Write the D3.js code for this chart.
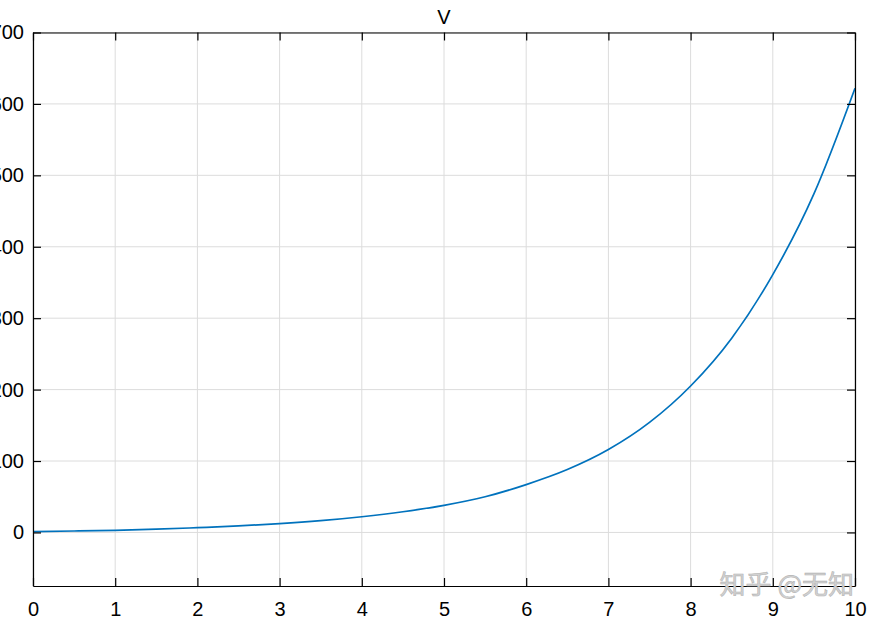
<!DOCTYPE html>
<html>
<head>
<meta charset="utf-8">
<script src="https://cdn.jsdelivr.net/npm/d3@7"></script>
<style>
  html, body { margin: 0; padding: 0; background: #fff; }
  svg { display: block; }
</style>
</head>
<body>
<svg id="chart" width="875" height="619"></svg>
<script>
// ---- data ----
const tValues = [0, 0.5, 1, 1.5, 2, 2.5, 3, 3.5, 4, 4.5, 5, 5.5, 6, 6.5, 7, 7.5, 8, 8.5, 9, 9.5, 10];
const vValues = [1.2, 2, 3, 4.5, 6.7, 9.1, 12.3, 16.5, 22, 29, 38, 50, 67, 88, 116, 154, 205, 272, 361, 474, 622];
const xTicks = [0, 1, 2, 3, 4, 5, 6, 7, 8, 9, 10];
const yTicks = [0, 100, 200, 300, 400, 500, 600, 700];
const titleText = "V";
const watermarkText = "知乎 @无知";

(function () {
// ---- layout ----
const svg = d3.select("#chart");
const pLeft = 33, pRight = 855, pTop = 32.5, pBottom = 586;
const font = "'Liberation Sans', Arial, Helvetica, sans-serif";

const x = d3.scaleLinear().domain([0, 10]).range([pLeft, pRight]);
const y = d3.scaleLinear().domain([-75, 700]).range([pBottom, pTop]);

// grid
const grid = svg.append("g");
grid.selectAll("line.vx").data(xTicks).enter().append("line")
  .attr("x1", d => x(d)).attr("x2", d => x(d))
  .attr("y1", pTop).attr("y2", pBottom)
  .attr("stroke", "#dcdcdc").attr("stroke-width", 1);
grid.selectAll("line.hy").data(yTicks).enter().append("line")
  .attr("x1", pLeft).attr("x2", pRight)
  .attr("y1", d => y(d)).attr("y2", d => y(d))
  .attr("stroke", "#dcdcdc").attr("stroke-width", 1);

// curve
const line = d3.line()
  .x((d, i) => x(tValues[i]))
  .y(d => y(d))
  .curve(d3.curveMonotoneX);
svg.append("path")
  .datum(vValues)
  .attr("d", line)
  .attr("fill", "none")
  .attr("stroke", "#0072BD")
  .attr("stroke-width", 1.7);

// axes (MATLAB style: ticks inward, box on)
const tickLen = 8;
const axB = svg.append("g").attr("transform", `translate(0,${pBottom})`)
  .call(d3.axisBottom(x).tickValues(xTicks).tickSizeInner(-tickLen).tickSizeOuter(0).tickPadding(15.5).tickFormat(d3.format("d")));
const axT = svg.append("g").attr("transform", `translate(0,${pTop})`)
  .call(d3.axisTop(x).tickValues(xTicks).tickSizeInner(-tickLen).tickSizeOuter(0).tickFormat(""));
const axL = svg.append("g").attr("transform", `translate(${pLeft},0)`)
  .call(d3.axisLeft(y).tickValues(yTicks).tickSizeInner(-tickLen).tickSizeOuter(0).tickPadding(9).tickFormat(d3.format("d")));
const axR = svg.append("g").attr("transform", `translate(${pRight},0)`)
  .call(d3.axisRight(y).tickValues(yTicks).tickSizeInner(-tickLen).tickSizeOuter(0).tickFormat(""));

[axB, axT, axL, axR].forEach(a => {
  a.select(".domain").attr("stroke", "#000").attr("stroke-width", 1.2);
  a.selectAll(".tick line").attr("stroke", "#000").attr("stroke-width", 1.2);
  a.selectAll(".tick text").attr("fill", "#000").style("font-family", font).style("font-size", "20px");
});
axB.selectAll(".tick text").attr("dy", "0.71em");

// title
svg.append("text")
  .attr("x", (pLeft + pRight) / 2)
  .attr("y", 24)
  .attr("text-anchor", "middle")
  .style("font-family", font)
  .style("font-size", "20px")
  .attr("fill", "#000")
  .text(titleText);

// watermark
svg.append("text")
  .attr("x", 854)
  .attr("y", 594)
  .attr("text-anchor", "end")
  .style("font-family", "'Noto Sans CJK SC', sans-serif")
  .style("font-size", "26px")
  .attr("fill", "#d2d2d2")
  .attr("stroke", "#b4b4b4")
  .attr("stroke-width", 0.6)
  .text(watermarkText);
})();
</script>
</body>
</html>
